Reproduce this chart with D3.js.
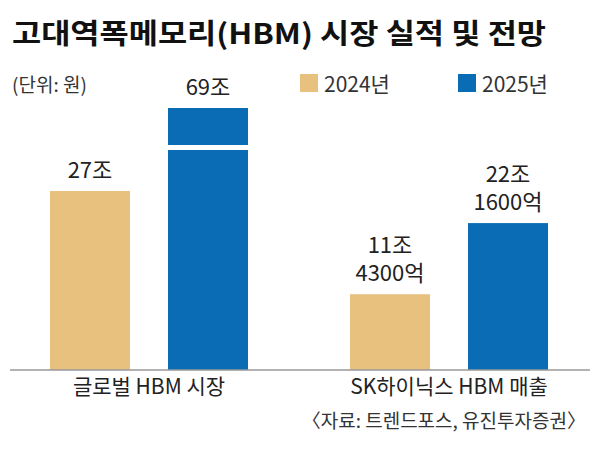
<!DOCTYPE html>
<html><head><meta charset="utf-8">
<script src="https://cdn.jsdelivr.net/npm/d3@7"></script>
<style>body{margin:0;background:#fff}text{font-family:"Noto Sans CJK KR","Noto Sans",sans-serif}</style>
</head><body>
<svg id="chart" width="600" height="451"></svg>
<script>
const categories = ["글로벌 HBM 시장", "SK하이닉스 HBM 매출"];
const years = ["2024년", "2025년"];
const values2024 = [27, 11.43];
const values2025 = [69, 22.16];
const labels2024 = [["27조"], ["11조", "4300억"]];
const labels2025 = [["69조"], ["22조", "1600억"]];
const palette = { "2024년": "#e9c17f", "2025년": "#0a6cb4" };

const svg = d3.select("#chart");
const baseY = 370, capY = 108;

const x0 = d3.scaleBand().domain(categories).range([50, 548]).paddingInner(0.34).paddingOuter(0);
const x1 = d3.scaleBand().domain(years).range([0, x0.bandwidth()]).paddingInner(0.322).paddingOuter(0);
const y = d3.scaleLinear().domain([0, 27]).range([baseY, 191]);

// title
svg.append("text").attr("x", 12).attr("y", 44).attr("font-size", 28).attr("font-weight", 700)
  .attr("fill", "#111").attr("textLength", 534).attr("lengthAdjust", "spacingAndGlyphs")
  .text("고대역폭메모리(HBM) 시장 실적 및 전망");
svg.append("text").attr("x", 12).attr("y", 92).attr("font-size", 19).attr("fill", "#333").text("(단위: 원)");

// legend
years.forEach((yr, i) => {
  const lx = 300 + i * 158;
  svg.append("rect").attr("x", lx).attr("y", 74).attr("width", 18).attr("height", 18).attr("fill", palette[yr]);
  svg.append("text").attr("x", lx + 24).attr("y", 92).attr("font-size", 21).attr("fill", "#333").text(yr);
});

const rows = [];
categories.forEach((c, i) => {
  rows.push({ cat: c, yr: "2024년", v: values2024[i], lab: labels2024[i] });
  rows.push({ cat: c, yr: "2025년", v: values2025[i], lab: labels2025[i] });
});

rows.forEach(d => {
  const bx = x0(d.cat) + x1(d.yr), bw = x1.bandwidth();
  let top = y(d.v);
  const broken = top < capY;
  if (broken) top = capY;
  svg.append("rect").attr("x", bx).attr("y", top).attr("width", bw).attr("height", baseY - top).attr("fill", palette[d.yr]);
  if (broken) svg.append("rect").attr("x", bx - 1).attr("y", 145).attr("width", bw + 2).attr("height", 5).attr("fill", "#fff");
  const n = d.lab.length;
  d.lab.forEach((t, j) => {
    svg.append("text").attr("x", bx + bw / 2).attr("y", top - 13 - (n - 1 - j) * 28)
      .attr("text-anchor", "middle").attr("font-size", 22).attr("fill", "#222").text(t);
  });
});

svg.append("line").attr("x1", 10).attr("x2", 590).attr("y1", baseY).attr("y2", baseY).attr("stroke", "#999").attr("stroke-width", 1.5);

svg.append("g").selectAll("text").data(categories).join("text")
  .attr("x", d => x0(d) + x0.bandwidth() / 2).attr("y", 394).attr("text-anchor", "middle")
  .attr("font-size", 21).attr("fill", "#222").text(d => d);

svg.append("text").attr("x", 586).attr("y", 428).attr("text-anchor", "end").attr("font-size", 19)
  .attr("fill", "#333").text("〈자료: 트렌드포스, 유진투자증권〉");
</script>
</body></html>
